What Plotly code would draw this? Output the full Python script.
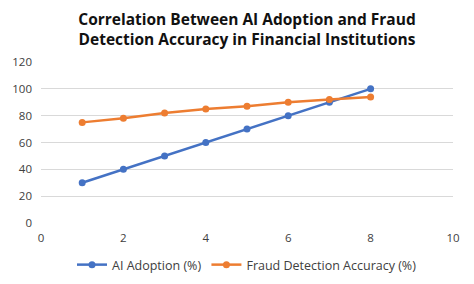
import plotly.graph_objects as go

x_vals = [1, 2, 3, 4, 5, 6, 7, 8]
ai_adoption = [30, 40, 50, 60, 70, 80, 90, 100]
fraud_accuracy = [75, 78, 82, 85, 87, 90, 92, 94]

fig = go.Figure()
fig.add_trace(go.Scatter(x=x_vals, y=ai_adoption, mode="lines+markers",
                         name="AI Adoption (%)",
                         line=dict(color="#4472C4", width=2.5),
                         marker=dict(size=7, color="#4472C4")))
fig.add_trace(go.Scatter(x=x_vals, y=fraud_accuracy, mode="lines+markers",
                         name="Fraud Detection Accuracy (%)",
                         line=dict(color="#ED7D31", width=2.5),
                         marker=dict(size=7, color="#ED7D31")))

fig.update_layout(
    width=474, height=284,
    margin=dict(l=41, r=21, t=62, b=61, autoexpand=False),
    paper_bgcolor="white", plot_bgcolor="white",
    title=dict(text="<b>Correlation Between AI Adoption and Fraud<br>Detection Accuracy in Financial Institutions</b>",
               x=0.5, xanchor="center", xref="paper", yref="container",
               y=1 - 25 / 284, yanchor="middle",
               font=dict(family="Open Sans", size=15.5, color="#111111")),
    font=dict(family="Open Sans", size=11.5, color="#404040"),
    xaxis=dict(range=[0, 10], dtick=2, showgrid=False, zeroline=False,
               showline=False, ticks="", ticklabelstandoff=6, automargin=False),
    yaxis=dict(range=[0, 120], dtick=20, showgrid=True, gridcolor="#d9d9d9",
               gridwidth=1, zeroline=False, showline=False, ticks="",
               ticklabelstandoff=8, automargin=False),
    legend=dict(orientation="h", x=0.5, xanchor="center",
                yref="container", y=(284 - 265) / 284, yanchor="middle",
                font=dict(size=12.5, color="#404040"), itemwidth=30),
    showlegend=True,
)

fig.write_html("out.html")
